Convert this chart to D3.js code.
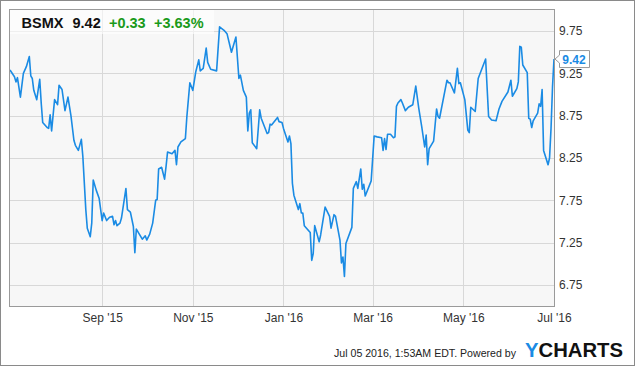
<!DOCTYPE html>
<html>
<head>
<meta charset="utf-8">
<script src="https://cdn.jsdelivr.net/npm/d3@7/dist/d3.min.js"></script>
<style>
  html, body { margin: 0; padding: 0; background: #fff; }
  svg { display: block; font-family: "Liberation Sans", Arial, sans-serif; }
</style>
</head>
<body>
<script>
// BSMX daily close
var dates = [
  "2015-07-01","2015-07-04","2015-07-05","2015-07-06","2015-07-08","2015-07-10","2015-07-12","2015-07-14","2015-07-15","2015-07-16",
  "2015-07-17","2015-07-19","2015-07-21","2015-07-22","2015-07-23","2015-07-26","2015-07-27","2015-07-28","2015-07-29","2015-07-31",
  "2015-08-02","2015-08-03","2015-08-05","2015-08-07","2015-08-09","2015-08-11","2015-08-13","2015-08-14","2015-08-16","2015-08-18",
  "2015-08-19","2015-08-21","2015-08-22","2015-08-24","2015-08-25","2015-08-26","2015-08-28","2015-08-30","2015-09-01","2015-09-02",
  "2015-09-04","2015-09-06","2015-09-08","2015-09-09","2015-09-10","2015-09-11","2015-09-13","2015-09-14","2015-09-17","2015-09-18",
  "2015-09-20","2015-09-22","2015-09-23","2015-09-24","2015-09-26","2015-09-28","2015-09-30","2015-10-01","2015-10-03","2015-10-05",
  "2015-10-07","2015-10-08","2015-10-09","2015-10-11","2015-10-13","2015-10-14","2015-10-15","2015-10-18","2015-10-20","2015-10-21",
  "2015-10-22","2015-10-24","2015-10-27","2015-10-28","2015-10-30","2015-11-01","2015-11-03","2015-11-05","2015-11-06","2015-11-08",
  "2015-11-10","2015-11-11","2015-11-13","2015-11-17","2015-11-19","2015-11-22","2015-11-24","2015-11-27","2015-11-30","2015-12-02",
  "2015-12-03","2015-12-05","2015-12-07","2015-12-08","2015-12-09","2015-12-10","2015-12-11","2015-12-14","2015-12-16","2015-12-17",
  "2015-12-21","2015-12-22","2015-12-23","2015-12-24","2015-12-28","2015-12-29","2015-12-31","2016-01-01","2016-01-04","2016-01-05",
  "2016-01-06","2016-01-07","2016-01-08","2016-01-11","2016-01-12","2016-01-13","2016-01-14","2016-01-15","2016-01-19","2016-01-20",
  "2016-01-21","2016-01-22","2016-01-25","2016-01-26","2016-01-29","2016-02-01","2016-02-02","2016-02-04","2016-02-05","2016-02-08",
  "2016-02-09","2016-02-10","2016-02-11","2016-02-12","2016-02-16","2016-02-17","2016-02-19","2016-02-20","2016-02-22","2016-02-23",
  "2016-02-24","2016-02-25","2016-02-29","2016-03-02","2016-03-04","2016-03-07","2016-03-08","2016-03-09","2016-03-10","2016-03-11",
  "2016-03-13","2016-03-15","2016-03-16","2016-03-17","2016-03-18","2016-03-20","2016-03-21","2016-03-23","2016-03-25","2016-03-28",
  "2016-03-30","2016-04-01","2016-04-03","2016-04-05","2016-04-06","2016-04-07","2016-04-08","2016-04-11","2016-04-13","2016-04-14",
  "2016-04-15","2016-04-20","2016-04-21","2016-04-22","2016-04-25","2016-04-27","2016-04-28","2016-04-29","2016-05-02","2016-05-04",
  "2016-05-05","2016-05-06","2016-05-09","2016-05-11","2016-05-14","2016-05-16","2016-05-18","2016-05-20","2016-05-23","2016-05-25",
  "2016-05-27","2016-05-31","2016-06-02","2016-06-03","2016-06-06","2016-06-07","2016-06-08","2016-06-09","2016-06-10","2016-06-13",
  "2016-06-14","2016-06-15","2016-06-16","2016-06-17","2016-06-20","2016-06-21","2016-06-22","2016-06-23","2016-06-24","2016-06-27",
  "2016-06-28","2016-06-29","2016-06-30","2016-07-01"
];
var prices = [
  9.29,9.21,9.15,9.20,8.97,9.25,9.33,9.45,9.22,9.19,
  9.05,8.94,9.18,8.90,8.67,8.61,8.60,8.76,8.57,8.94,
  8.88,9.11,9.06,8.81,8.97,8.75,8.46,8.40,8.34,8.47,
  8.27,7.64,7.42,7.32,7.48,7.99,7.87,7.77,7.51,7.60,
  7.51,7.55,7.56,7.46,7.51,7.45,7.48,7.54,7.89,7.64,
  7.61,7.44,7.13,7.41,7.35,7.29,7.33,7.28,7.35,7.48,
  7.75,7.76,8.12,8.14,8.00,8.15,8.32,8.30,8.34,8.17,
  8.38,8.44,8.48,8.74,9.14,9.05,9.27,9.41,9.28,9.31,
  9.55,9.38,9.30,9.28,9.80,9.76,9.72,9.50,9.68,9.19,
  9.23,9.05,8.97,8.57,8.78,8.82,8.43,8.36,8.82,8.72,
  8.54,8.55,8.65,8.64,8.73,8.68,8.67,8.60,8.44,8.51,
  8.42,7.95,7.81,7.64,7.71,7.60,7.60,7.45,7.37,7.04,
  7.12,7.45,7.26,7.34,7.67,7.56,7.42,7.58,7.56,7.28,
  7.01,7.08,6.85,7.24,7.43,7.89,7.97,7.89,8.12,7.88,
  7.94,7.80,7.98,8.51,8.50,8.49,8.34,8.48,8.35,8.53,
  8.53,8.49,8.50,8.86,8.90,8.94,8.90,8.81,8.85,8.88,
  9.10,8.84,8.62,8.38,8.52,8.17,8.36,8.45,8.83,8.74,
  8.72,9.17,9.14,9.14,9.02,9.31,9.13,9.14,8.94,8.58,
  8.55,8.85,8.80,9.19,9.33,9.42,8.74,8.70,8.69,8.83,
  8.92,9.03,9.17,8.98,9.07,9.15,9.57,9.56,9.35,9.26,
  8.72,8.71,8.61,8.69,8.78,8.89,8.86,9.06,8.34,8.17,
  8.25,8.60,9.09,9.42
];
var xTickDates = ["2015-09-01","2015-11-01","2016-01-01","2016-03-01","2016-05-01","2016-07-01"];
var xTickLabels = ["Sep '15","Nov '15","Jan '16","Mar '16","May '16","Jul '16"];
var yTicks = [6.75, 7.25, 7.75, 8.25, 8.75, 9.25, 9.75];
var ticker = "BSMX", lastPrice = "9.42", change = "+0.33", changePct = "+3.63%";

var W = 635, H = 366;
var pL = 10, pT = 10, pR = 554, pB = 306;
var parse = d3.timeParse("%Y-%m-%d");
var data = dates.map(function(d, i) { return { date: parse(d), v: prices[i] }; });

var x = d3.scaleTime()
    .domain([parse("2015-07-01"), parse("2016-07-01")])
    .range([pL, pR]);
var y = d3.scaleLinear()
    .domain([6.5, 10])
    .range([pB, pT]);

var svg = d3.select("body").append("svg")
    .attr("width", W)
    .attr("height", H);

svg.append("rect")
    .attr("x", 0.5).attr("y", 0.5)
    .attr("width", W - 1).attr("height", H - 1)
    .attr("fill", "#fff").attr("stroke", "#8a8a8a");

svg.append("rect")
    .attr("x", pL).attr("y", pT)
    .attr("width", pR - pL).attr("height", pB - pT)
    .attr("fill", "#f7f7f7");

// grid
var grid = svg.append("g").attr("stroke", "#d8d8d8").attr("stroke-width", 1);
grid.selectAll("line.h")
  .data(yTicks)
  .enter().append("line")
    .attr("x1", pL).attr("x2", pR)
    .attr("y1", function(d) { return Math.round(y(d)) + 0.5; })
    .attr("y2", function(d) { return Math.round(y(d)) + 0.5; });
grid.selectAll("line.v")
  .data(xTickDates)
  .enter().append("line")
    .attr("y1", pT).attr("y2", pB)
    .attr("x1", function(d) { return Math.round(x(parse(d))) + 0.5; })
    .attr("x2", function(d) { return Math.round(x(parse(d))) + 0.5; });

// price line
var line = d3.line()
    .x(function(d) { return x(d.date); })
    .y(function(d) { return y(d.v); });

svg.append("path")
    .datum(data)
    .attr("d", line)
    .attr("fill", "none")
    .attr("stroke", "#1a8be4")
    .attr("stroke-width", 1.6)
    .attr("stroke-linejoin", "round");

// header box
svg.append("rect")
    .attr("x", pL).attr("y", pT)
    .attr("width", 204).attr("height", 24)
    .attr("fill", "#fff").attr("opacity", 0.6);

var head = svg.append("text")
    .attr("y", 28)
    .attr("font-size", "14.5px")
    .attr("font-weight", "bold");
head.append("tspan").attr("x", 21.5).attr("fill", "#111").text(ticker);
head.append("tspan").attr("x", 72.5).attr("fill", "#111").text(lastPrice);
head.append("tspan").attr("x", 109).attr("fill", "#1a9a1a").text(change);
head.append("tspan").attr("x", 154).attr("fill", "#1a9a1a").text(changePct);

// frame
svg.append("rect")
    .attr("x", pL - 0.5).attr("y", pT - 0.5)
    .attr("width", pR - pL + 1).attr("height", pB - pT + 1)
    .attr("fill", "none").attr("stroke", "#9a9a9a");

// y axis labels
var yAxis = d3.axisRight(y)
    .tickValues(yTicks)
    .tickSize(0)
    .tickPadding(5)
    .tickFormat(d3.format(".2f"));
var gy = svg.append("g")
    .attr("transform", "translate(" + pR + ",0)")
    .call(yAxis);
gy.select(".domain").remove();
gy.selectAll("text")
    .attr("font-family", "Liberation Sans, Arial, sans-serif")
    .attr("font-size", "12px")
    .attr("fill", "#333");

// x axis labels
var xAxis = d3.axisBottom(x)
    .tickValues(xTickDates.map(parse))
    .tickSize(0)
    .tickPadding(7)
    .tickFormat(function(d, i) { return xTickLabels[i]; });
var gx = svg.append("g")
    .attr("transform", "translate(0," + pB + ")")
    .call(xAxis);
gx.select(".domain").remove();
gx.selectAll("text")
    .attr("font-family", "Liberation Sans, Arial, sans-serif")
    .attr("font-size", "12px")
    .attr("fill", "#333");

// last price flag
var lastY = y(prices[prices.length - 1]);
svg.append("path")
    .attr("d", "M" + (pR + 1) + "," + lastY +
               "L" + (pR + 5.5) + "," + (lastY - 4) +
               "V" + (lastY - 8.5) + "H" + 589.5 + "V" + (lastY + 8.5) +
               "H" + (pR + 5.5) + "V" + (lastY + 4) + "Z")
    .attr("fill", "#fff")
    .attr("stroke", "#999");
svg.append("text")
    .attr("x", 574).attr("y", lastY + 4.5)
    .attr("text-anchor", "middle")
    .attr("font-size", "12px")
    .attr("font-weight", "bold")
    .attr("fill", "#1a8be4")
    .text(lastPrice);

// footer
svg.append("text")
    .attr("x", 334).attr("y", 357)
    .attr("font-size", "11px")
    .attr("fill", "#222")
    .attr("textLength", 182)
    .attr("lengthAdjust", "spacingAndGlyphs")
    .text("Jul 05 2016, 1:53AM EDT.  Powered by");
var logo = svg.append("text")
    .attr("x", 525).attr("y", 357)
    .attr("font-size", "20px")
    .attr("font-weight", "bold")
    .attr("textLength", 98)
    .attr("lengthAdjust", "spacingAndGlyphs");
logo.append("tspan").attr("fill", "#1a8be4").text("Y");
logo.append("tspan").attr("fill", "#111").text("CHARTS");
</script>
</body>
</html>
